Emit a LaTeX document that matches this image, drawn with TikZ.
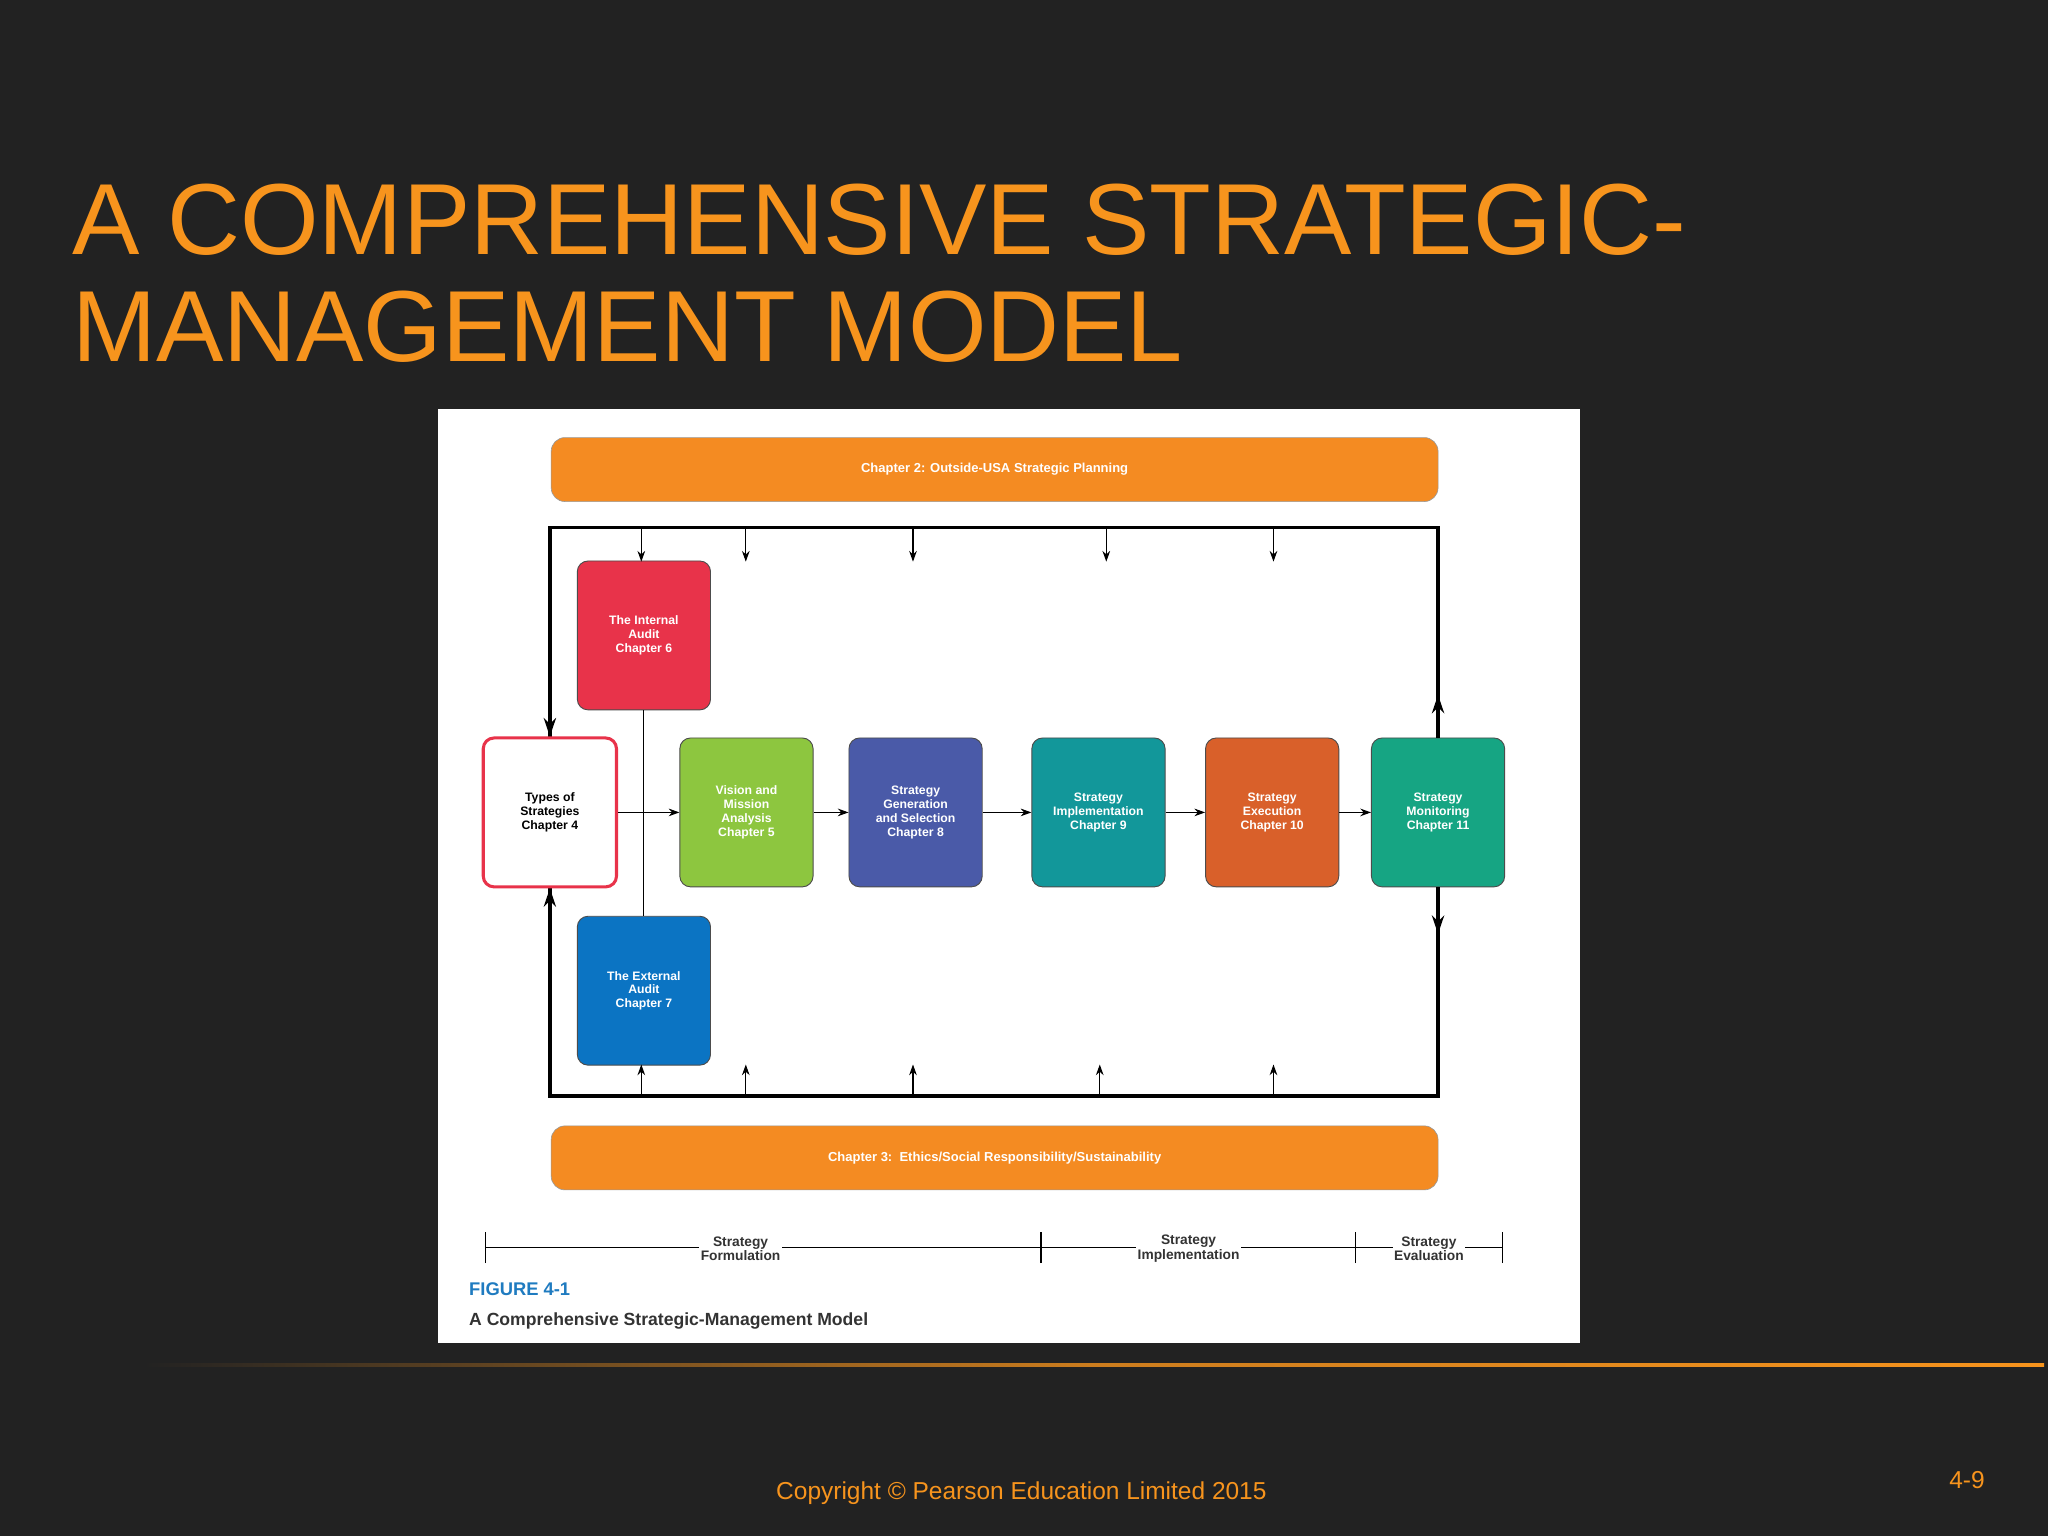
\documentclass[tikz,border=0pt]{standalone}
\usepackage{fontspec}
\setmainfont{Liberation Sans}
\usetikzlibrary{arrows.meta}
\definecolor{bg}{HTML}{222222}
\definecolor{ttl}{HTML}{F7941D}
\definecolor{bar}{HTML}{F48B22}
\definecolor{cred}{HTML}{E8334A}
\definecolor{cgreen}{HTML}{8DC63F}
\definecolor{cblue}{HTML}{4A5AA8}
\definecolor{cteal}{HTML}{12979A}
\definecolor{corange}{HTML}{D9602A}
\definecolor{cmint}{HTML}{16A583}
\definecolor{cext}{HTML}{0B74C3}
\definecolor{figblue}{HTML}{1F7BC0}
\tikzset{
 box/.style={draw=black!70,rounded corners=7pt,minimum width=102*0.03cm,minimum height=114*0.03cm,align=center,text=white,font=\fontsize{8}{9}\selectfont\bfseries,line width=0.6pt},
 barbox/.style={draw=black!40,fill=bar,rounded corners=9pt,minimum width=679*0.03cm,minimum height=49*0.03cm,text=white,font=\fontsize{8.5}{10}\selectfont\bfseries},
 thick line/.style={line width=2.2pt},
 tip/.style={-{Stealth[length=7pt,width=5pt]},line width=0.7pt},
 bigtip/.style={-{Stealth[length=12pt,width=8pt]},line width=2.2pt},
 lbl/.style={align=center,font=\fontsize{9}{9.5}\selectfont\bfseries,text=black!80,fill=white,inner sep=1pt}
}
\begin{document}
\begin{tikzpicture}[x=0.03cm,y=-0.03cm]
\fill[bg] (0,0) rectangle (1568,1176);
\node[anchor=base west,text=ttl,inner sep=0,font=\fontsize{66}{70}\selectfont] (t1) at (55,195) {A COMPREHENSIVE STRATEGIC-};
\node[anchor=base west,text=ttl,inner sep=0,font=\fontsize{66}{70}\selectfont] (t2) at (55,277) {MANAGEMENT MODEL};
\fill[white] (335,313) rectangle (1210,1028);
\node[barbox] (top) at (761.5,359.5) {Chapter 2: Outside-USA Strategic Planning};
\node[barbox] (bot) at (761.5,886.5) {Chapter 3:\ \ Ethics/Social Responsibility/Sustainability};
\draw[thick line] (421,404) rectangle (1101,839);
\node[box,fill=cred] (ia) at (493,486.5) {The Internal\\Audit\\Chapter 6};
\node[box,fill=white,draw=cred,line width=2pt,text=black] (ty) at (421,622) {Types of\\Strategies\\Chapter 4};
\node[box,fill=cgreen] (vi) at (571.5,622) {Vision and\\Mission\\Analysis\\Chapter 5};
\node[box,fill=cblue] (sg) at (701,622) {Strategy\\Generation\\and Selection\\Chapter 8};
\node[box,fill=cteal] (im) at (841,622) {Strategy\\Implementation\\Chapter 9};
\node[box,fill=corange] (ex) at (974,622) {Strategy\\Execution\\Chapter 10};
\node[box,fill=cmint] (mo) at (1101,622) {Strategy\\Monitoring\\Chapter 11};
\node[box,fill=cext] (ea) at (493,758.5) {The External\\Audit\\Chapter 7};
\draw[line width=0.7pt] (ia.south) -- (ea.north);
\draw[tip] (ty) -- (vi);
\draw[tip] (vi) -- (sg);
\draw[tip] (sg) -- (im);
\draw[tip] (im) -- (ex);
\draw[tip] (ex) -- (mo);
\foreach \x/\n in {491/a,571/b,699/c,847/d,975/e}{
 \coordinate (u\n) at (\x,404); \coordinate (v\n) at (\x,430);
 \draw[tip] (u\n) -- (v\n);}
\foreach \x/\n in {491/a,571/b,699/c,842/d,975/e}{
 \coordinate (p\n) at (\x,839); \coordinate (q\n) at (\x,815);
 \draw[tip] (p\n) -- (q\n);}
\coordinate (tl) at (421,404); \coordinate (bl) at (421,839);
\coordinate (tr) at (1101,404); \coordinate (br) at (1101,839);
\draw[bigtip] (tl) -- (ty.north);
\draw[bigtip] (bl) -- (ty.south);
\draw[bigtip] (mo.north) -- (1101,532);
\draw[bigtip] (mo.south) -- (1101,715);
% timeline
\coordinate (k1) at (372,955); \coordinate (k2) at (797,955); \coordinate (k3) at (1038,955); \coordinate (k4) at (1150,955);
\draw[line width=0.7pt] (k1) -- (k4);
\foreach \k in {k1,k2,k3,k4}{\draw[line width=0.7pt] ([yshift=-12*0.03cm]\k) -- ([yshift=12*0.03cm]\k);}
\node[lbl] (f) at (567,956) {Strategy\\Formulation};
\node[lbl] (i) at (910,956) {Strategy\\Implementation};
\node[lbl] (e) at (1094,956) {Strategy\\Evaluation};
\node[anchor=west,text=figblue,font=\fontsize{12}{12}\selectfont\bfseries,inner sep=0] (fig) at (359,987) {FIGURE 4-1};
\node[anchor=west,text=black!80,font=\fontsize{11.5}{12}\selectfont\bfseries,inner sep=0] (cap) at (359,1011) {A Comprehensive Strategic-Management Model};
\shade[left color=bg,right color=ttl,middle color=ttl!80!bg] (110,1044) rectangle (1565,1046);
\node[text=ttl,font=\fontsize{16}{18}\selectfont] (cp) at (782,1143) {Copyright © Pearson Education Limited 2015};
\node[text=ttl,font=\fontsize{16}{18}\selectfont] (pg) at (1506,1133) {4-9};
\end{tikzpicture}
\end{document}
